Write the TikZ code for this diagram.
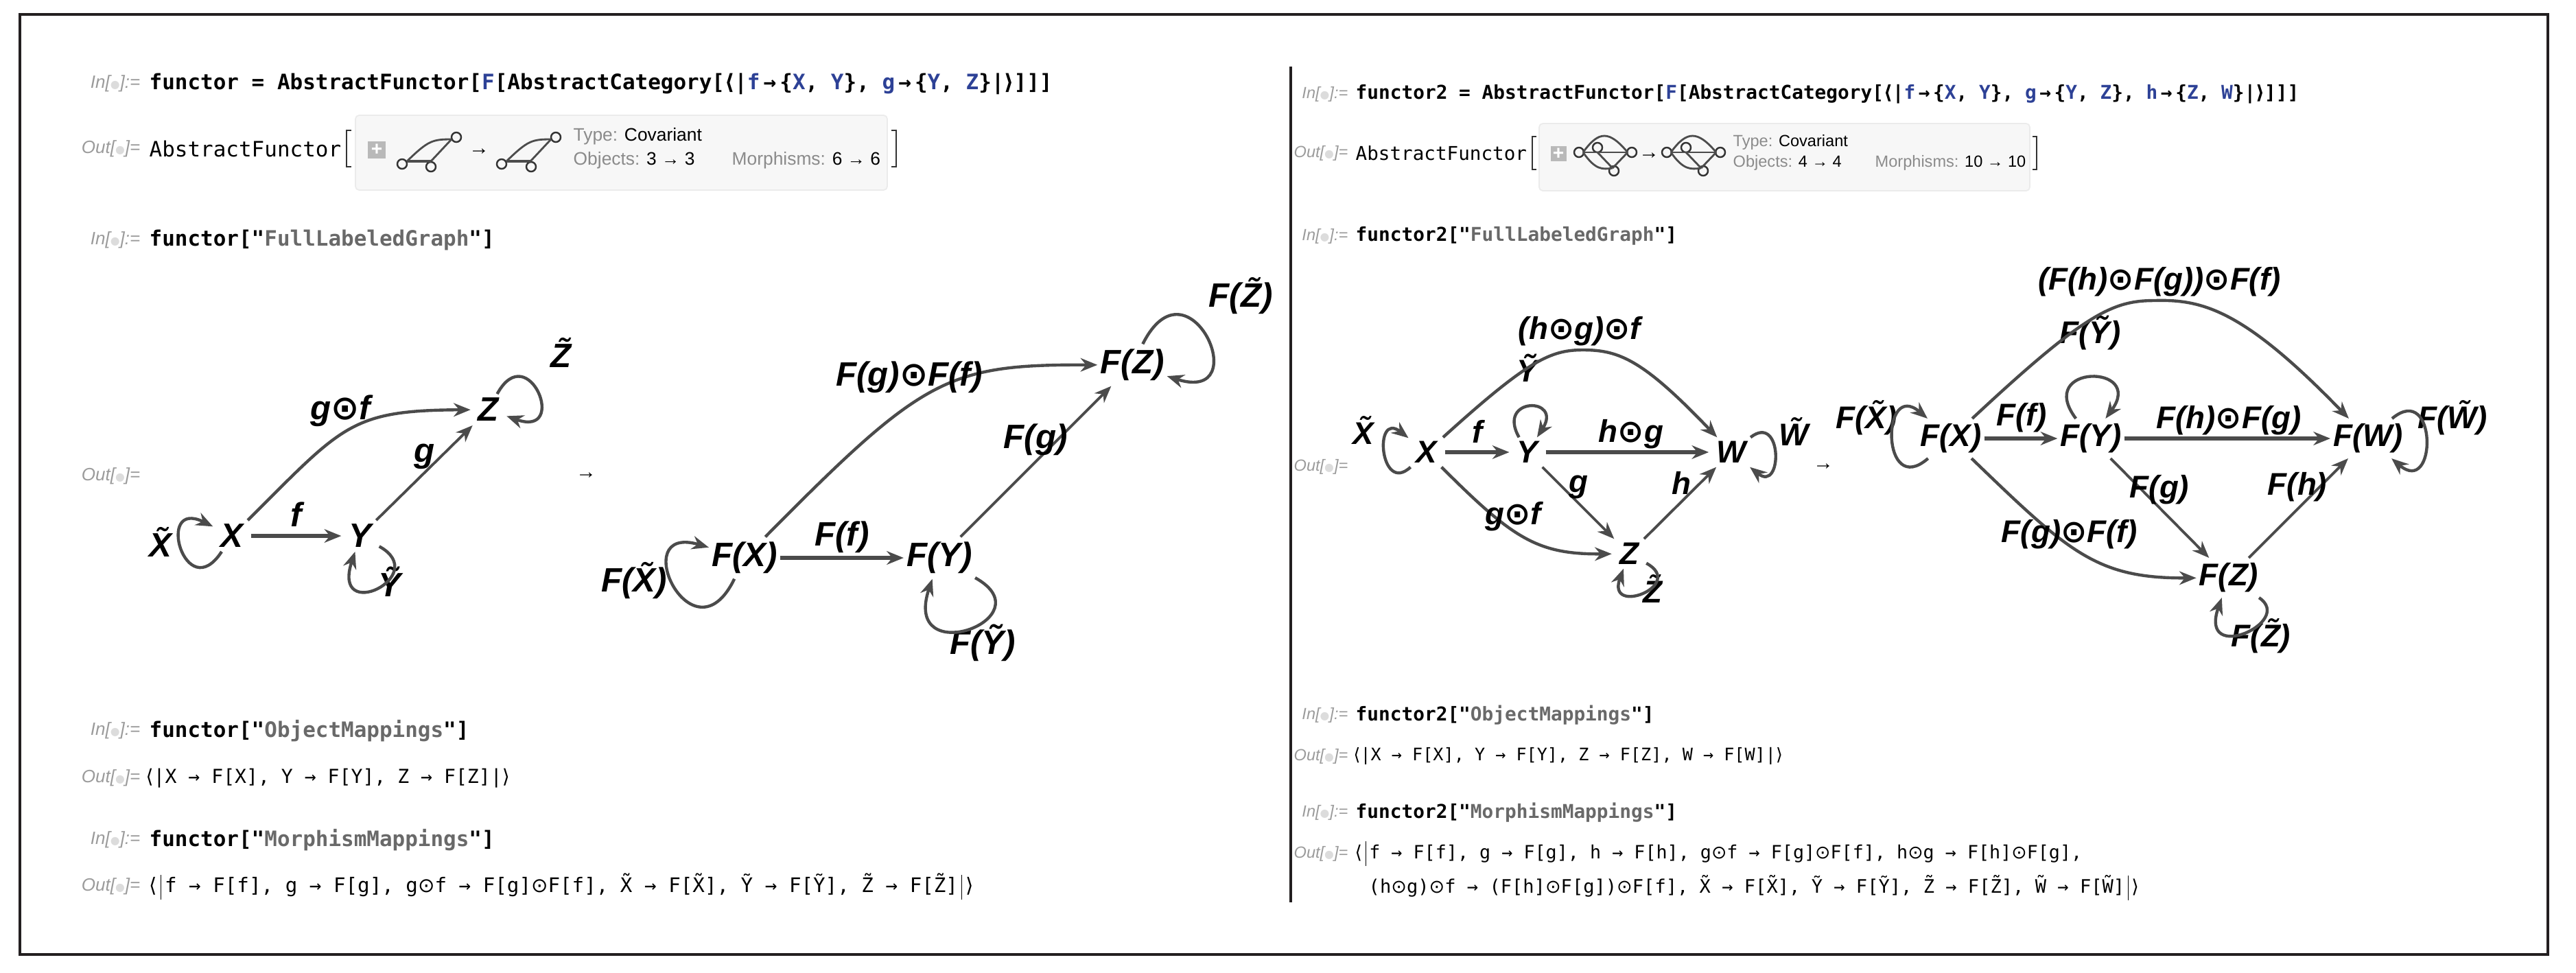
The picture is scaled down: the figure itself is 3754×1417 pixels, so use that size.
\documentclass[tikz,border=0pt]{standalone}
\usepackage{fontspec}
\usetikzlibrary{arrows.meta}
\setmainfont{Liberation Sans}
\newfontfamily\codefont{DejaVu Sans Mono}
\newfontfamily\dejafont{DejaVu Sans}
\definecolor{labelgray}{RGB}{155,155,155}
\definecolor{dotgray}{RGB}{220,220,220}
\definecolor{stringgray}{RGB}{105,105,105}
\definecolor{wlblue}{RGB}{45,65,150}
\definecolor{edgegray}{RGB}{75,75,75}
\definecolor{framegray}{RGB}{35,31,32}
\definecolor{boxgray}{RGB}{247,247,247}
\definecolor{boxline}{RGB}{235,235,235}
\definecolor{plusgray}{RGB}{185,185,185}
\newcommand{\bl}[1]{\textcolor{wlblue}{#1}}
\newcommand{\str}[1]{\textcolor{stringgray}{#1}}
\newcommand{\gry}[1]{\textcolor{labelgray!90!black}{#1}}
\newcommand{\dotmark}{\textcolor{dotgray}{{\dejafont\fontsize{4.5}{5}\selectfont ●}}}
\newcommand{\inmark}{In[\dotmark]:=}
\newcommand{\outmark}{Out[\dotmark]=}
\newcommand{\odotb}{{\dejafont\bfseries ⊙}}
\newcommand{\odotr}{{\dejafont ⊙}}
\newcommand{\langl}{{\dejafont ⟨}}
\newcommand{\rangl}{{\dejafont ⟩}}
\newcommand{\bigbar}{\rule[-3pt]{0.35pt}{10.4pt}}
\begin{document}
\begin{tikzpicture}[x=0.01cm, y=-0.01cm,
    inlabel/.style={anchor=east, inner sep=0pt, text=labelgray, font=\itshape\fontsize{7.4}{9}\selectfont},
    inright/.style={inlabel, font=\itshape\fontsize{6.7}{8}\selectfont},
    codeleft/.style={anchor=west, inner sep=0pt, font=\codefont\bfseries\fontsize{8.8}{10}\selectfont},
    coderight/.style={anchor=west, inner sep=0pt, font=\codefont\bfseries\fontsize{7.9}{9}\selectfont},
    outleft/.style={anchor=west, inner sep=0pt, font=\codefont\fontsize{8.3}{10}\selectfont},
    outright/.style={anchor=west, inner sep=0pt, font=\codefont\fontsize{7.75}{9}\selectfont},
    infoleft/.style={anchor=west, inner sep=0pt, font=\fontsize{7.5}{9}\selectfont},
    inforight/.style={anchor=west, inner sep=0pt, font=\fontsize{6.7}{8}\selectfont},
    sumbox/.style={rectangle, rounded corners=1.5pt, draw=boxline, fill=boxgray, line width=0.5pt},
    plusbox/.style={rectangle, fill=plusgray, text=white, inner sep=0pt, font=\bfseries\fontsize{8}{8}\selectfont},
    miniloop/.style={circle, draw=black!80, line width=0.7pt, inner sep=0pt, minimum size=0.14cm},
    miniedge/.style={draw=black!70, line width=0.8pt},
    bracket/.style={draw=black!80, line width=0.4pt},
    obj/.style={inner xsep=3pt, inner ysep=1.5pt, font=\bfseries\itshape\fontsize{14}{16}\selectfont},
    fobj/.style={obj, inner xsep=1pt, inner ysep=2pt},
    lbl/.style={inner sep=0pt, font=\bfseries\itshape\fontsize{14}{16}\selectfont},
    robj/.style={obj, font=\bfseries\itshape\fontsize{13}{15}\selectfont},
    rfobj/.style={fobj, font=\bfseries\itshape\fontsize{13}{15}\selectfont},
    rlbl/.style={lbl, font=\bfseries\itshape\fontsize{13}{15}\selectfont},
    maparrow/.style={inner sep=0pt, font=\fontsize{8.5}{9}\selectfont},
    arrow/.style={->, >={Stealth[length=7pt, width=5.6pt]}, draw=edgegray, line width=1.25pt},
    arrowthin/.style={arrow, line width=1.1pt},
    arrowthick/.style={arrow, line width=1.8pt}
]
    \useasboundingbox (0,0) rectangle (3754,1417);

    % Frame
    \draw[draw=framegray, line width=0.04cm] (29,21) rectangle (3713,1391);
    \draw[draw=framegray, line width=0.04cm] (1881,97) -- (1881,1315);

    % Left notebook, text
    \node[inlabel] (inA) at (205,122) {\inmark};
    \node[codeleft] (codeA) at (217,122) {functor = AbstractFunctor[\bl{F}[AbstractCategory[\langl|\bl{f}\,→\,\{\bl{X}, \bl{Y}\}, \bl{g}\,→\,\{\bl{Y}, \bl{Z}\}|\rangl]]]};
    \node[inlabel] (outA) at (205,217) {\outmark};
    \node[codeleft, font=\codefont\fontsize{8.8}{10}\selectfont] (codeB) at (217,217) {AbstractFunctor};
    \node[inlabel] (inB) at (205,350) {\inmark};
    \node[codeleft] (codeC) at (217,350) {functor["\str{FullLabeledGraph}"]};
    \node[inlabel] (outB) at (205,694) {\outmark};
    \node[inlabel] (inC) at (205,1065) {\inmark};
    \node[codeleft] (codeD) at (217,1065) {functor["\str{ObjectMappings}"]};
    \node[inlabel] (outC) at (205,1134) {\outmark};
    \node[outleft, font=\codefont\fontsize{8}{9}\selectfont] (codeE) at (212,1134) {\langl|X → F[X], Y → F[Y], Z → F[Z]|\rangl};
    \node[inlabel] (inD) at (205,1224) {\inmark};
    \node[codeleft] (codeF) at (217,1224) {functor["\str{MorphismMappings}"]};
    \node[inlabel] (outD) at (205,1292) {\outmark};
    \node[outleft] (codeG) at (217,1292) {\langl\,\bigbar\,f → F[f], g → F[g], g\odotr{}f → F[g]\odotr{}F[f], \~{X} → F[\~{X}], \~{Y} → F[\~{Y}], \~{Z} → F[\~{Z}]\,\bigbar\,\rangl};

    % Left summary box
    \draw[sumbox] (518,168) rectangle (1293,277);
    \draw[bracket] (512,190) -- (505,190) -- (505,243) -- (512,243);
    \draw[bracket] (1299,190) -- (1306,190) -- (1306,243) -- (1299,243);
    \node[plusbox, minimum width=0.26cm, minimum height=0.25cm] (plusA) at (549,218) {+};
    \coordinate (aX) at (593,235);
    \coordinate (aY) at (628,235);
    \coordinate (aZ) at (658,203);
    \node[miniloop] (aXl) at (586,239) {};
    \node[miniloop] (aYl) at (628,243) {};
    \node[miniloop] (aZl) at (665,200) {};
    \draw[miniedge, line width=1.3pt] (aX) -- (aY);
    \draw[miniedge] (aY) -- (aZ);
    \draw[miniedge] (aX) .. controls (624,205) and (630,203) .. (aZ);
    \node[maparrow] (mapA) at (698,221) {→};
    \coordinate (bX) at (738,235);
    \coordinate (bY) at (773,235);
    \coordinate (bZ) at (803,203);
    \node[miniloop] (bXl) at (731,239) {};
    \node[miniloop] (bYl) at (774,243) {};
    \node[miniloop] (bZl) at (810,200) {};
    \draw[miniedge, line width=1.3pt] (bX) -- (bY);
    \draw[miniedge] (bY) -- (bZ);
    \draw[miniedge] (bX) .. controls (769,205) and (775,203) .. (bZ);
    \node[infoleft] (typeA) at (835,199) {\gry{Type:} Covariant};
    \node[infoleft] (objA) at (835,234) {\gry{Objects:} 3 → 3};
    \node[infoleft] (morA) at (1066,234) {\gry{Morphisms:} 6 → 6};

    % Left graph
    \node[obj] (X) at (338,781) {X};
    \node[obj] (Y) at (525,781) {Y};
    \node[obj] (Z) at (712,597) {Z};
    \node[lbl] (tX) at (234,790) {\~{X}};
    \node[lbl] (tY) at (568,848) {\~{Y}};
    \node[lbl] (tZ) at (818,514) {\~{Z}};
    \draw[arrowthick] (X) -- node[lbl, above=0.1cm] (f) {f} (Y);
    \draw[arrowthin] (Y) -- (Z);
    \draw[arrow] (X) .. controls (500,620) and (510,598) .. (Z);
    \draw[arrow] (X) .. controls (270,885) and (225,725) .. (X);
    \draw[arrow] (Y) .. controls (630,839) and (482,911) .. (Y);
    \draw[arrow] (Z) .. controls (770,491) and (830,639) .. (Z);
    \node[lbl] (g) at (619,665) {g};
    \node[lbl] (gf) at (496,599) {g\odotb{}f};

    \node[maparrow] (mapB) at (854,693) {→};

    \node[fobj] (FX) at (1085,813) {F(X)};
    \node[fobj] (FY) at (1369,813) {F(Y)};
    \node[fobj] (FZ) at (1650,532) {F(Z)};
    \node[lbl] (FtX) at (924,846) {F(\~{X})};
    \node[lbl] (FtY) at (1432,937) {F(\~{Y})};
    \node[lbl] (FtZ) at (1808,431) {F(\~{Z})};
    \draw[arrowthick] (FX) -- (FY);
    \draw[arrowthin] (FY) -- (FZ);
    \draw[arrow] (FX) .. controls (1345,550) and (1380,531) .. (FZ);
    \draw[arrow] (FX) .. controls (1009,970) and (911,762) .. (FX);
    \draw[arrow] (FY) .. controls (1527,901) and (1313,979) .. (FY);
    \draw[arrow] (FZ) .. controls (1732,368) and (1832,590) .. (FZ);
    \node[lbl] (Ff) at (1227,783) {F(f)};
    \node[lbl] (Fg) at (1509,641) {F(g)};
    \node[lbl] (Fgf) at (1325,550) {F(g)\odotb{}F(f)};

    % Right notebook, text
    \node[inlabel, inright] (inE) at (1965,137) {\inmark};
    \node[coderight] (codeH) at (1975,137) {functor2 = AbstractFunctor[\bl{F}[AbstractCategory[\langl|\bl{f}\,→\,\{\bl{X}, \bl{Y}\}, \bl{g}\,→\,\{\bl{Y}, \bl{Z}\}, \bl{h}\,→\,\{\bl{Z}, \bl{W}\}|\rangl]]]};
    \node[inlabel, inright] (outE) at (1965,223) {\outmark};
    \node[coderight, font=\codefont\fontsize{7.85}{9}\selectfont] (codeI) at (1975,223) {AbstractFunctor};
    \node[inlabel, inright] (inF) at (1965,344) {\inmark};
    \node[coderight] (codeJ) at (1975,344) {functor2["\str{FullLabeledGraph}"]};
    \node[inlabel, inright] (outF) at (1965,680) {\outmark};
    \node[inlabel, inright] (inG) at (1965,1042) {\inmark};
    \node[coderight] (codeK) at (1975,1042) {functor2["\str{ObjectMappings}"]};
    \node[inlabel, inright] (outG) at (1965,1102) {\outmark};
    \node[outright, font=\codefont\fontsize{7.15}{9}\selectfont] (codeL) at (1972,1102) {\langl|X → F[X], Y → F[Y], Z → F[Z], W → F[W]|\rangl};
    \node[inlabel, inright] (inH) at (1965,1184) {\inmark};
    \node[coderight] (codeM) at (1975,1184) {functor2["\str{MorphismMappings}"]};
    \node[inlabel, inright] (outH) at (1965,1244) {\outmark};
    \node[outright, font=\codefont\fontsize{7.6}{9}\selectfont] (codeN) at (1974,1244) {\langl\,\bigbar\,f → F[f], g → F[g], h → F[h], g\odotr{}f → F[g]\odotr{}F[f], h\odotr{}g → F[h]\odotr{}F[g],};
    \node[outright, font=\codefont\fontsize{7.7}{9}\selectfont] (codeO) at (1994,1294) {(h\odotr{}g)\odotr{}f → (F[h]\odotr{}F[g])\odotr{}F[f], \~{X} → F[\~{X}], \~{Y} → F[\~{Y}], \~{Z} → F[\~{Z}], \~{W} → F[\~{W}]\,\bigbar\,\rangl};

    % Right summary box
    \draw[sumbox] (2243,180) rectangle (2958,278);
    \draw[bracket] (2239,199) -- (2233,199) -- (2233,247) -- (2239,247);
    \draw[bracket] (2962,199) -- (2968,199) -- (2968,247) -- (2962,247);
    \node[plusbox, minimum width=0.23cm, minimum height=0.22cm] (plusB) at (2271,224) {+};
    \coordinate (cX) at (2307,222);
    \coordinate (cY) at (2328,222);
    \coordinate (cW) at (2372,222);
    \coordinate (cZ) at (2350,245);
    \node[miniloop] (cXl) at (2301,222) {};
    \node[miniloop] (cYl) at (2328,215) {};
    \node[miniloop] (cWl) at (2378,222) {};
    \node[miniloop] (cZl) at (2352,249) {};
    \draw[miniedge] (cX) -- (cW);
    \draw[miniedge] (cY) -- (cZ);
    \draw[miniedge] (cZ) -- (cW);
    \draw[miniedge] (cX) .. controls (2330,190) and (2345,190) .. (cW);
    \draw[miniedge] (cX) .. controls (2325,248) and (2335,247) .. (cZ);
    \node[maparrow] (mapC) at (2403,227) {→};
    \coordinate (dX) at (2435,222);
    \coordinate (dY) at (2457,222);
    \coordinate (dW) at (2501,222);
    \coordinate (dZ) at (2479,245);
    \node[miniloop] (dXl) at (2429,222) {};
    \node[miniloop] (dYl) at (2457,215) {};
    \node[miniloop] (dWl) at (2507,222) {};
    \node[miniloop] (dZl) at (2482,249) {};
    \draw[miniedge] (dX) -- (dW);
    \draw[miniedge] (dY) -- (dZ);
    \draw[miniedge] (dZ) -- (dW);
    \draw[miniedge] (dX) .. controls (2458,190) and (2474,190) .. (dW);
    \draw[miniedge] (dX) .. controls (2453,248) and (2464,247) .. (dZ);
    \node[inforight] (typeB) at (2525,207) {\gry{Type:} Covariant};
    \node[inforight] (objB) at (2525,237) {\gry{Objects:} 4 → 4};
    \node[inforight] (morB) at (2732,237) {\gry{Morphisms:} 10 → 10};

    % Right graph
    \node[robj] (rX) at (2079,659) {X};
    \node[robj] (rY) at (2226,659) {Y};
    \node[robj] (rW) at (2523,659) {W};
    \node[robj] (rZ) at (2374,807) {Z};
    \node[rlbl] (rtX) at (1987,627) {\~{X}};
    \node[rlbl] (rtY) at (2226,536) {\~{Y}};
    \node[rlbl] (rtZ) at (2408,858) {\~{Z}};
    \node[rlbl] (rtW) at (2614,629) {\~{W}};
    \draw[arrowthick] (rX) -- (rY);
    \draw[arrowthick] (rY) -- (rW);
    \draw[arrowthin] (rY) -- (rZ);
    \draw[arrowthin] (rZ) -- (rW);
    \coordinate (rtop) at (2307,510);
    \draw[arrow] (rX) .. controls (2228,524) and (2260,510) .. (rtop) .. controls (2360,510) and (2395,525) .. (rW);
    \draw[arrow] (rX) .. controls (2205,785) and (2240,808) .. (rZ);
    \draw[arrow] (rX) .. controls (2011,722) and (2001,598) .. (rX);
    \draw[arrow] (rY) .. controls (2180,578) and (2278,578) .. (rY);
    \draw[arrow] (rW) .. controls (2598,601) and (2598,719) .. (rW);
    \draw[arrow] (rZ) .. controls (2458,853) and (2340,899) .. (rZ);
    \node[rlbl] (rf) at (2153,629) {f};
    \node[rlbl] (rg) at (2300,710) {g};
    \node[rlbl] (rh) at (2450,704) {h};
    \node[rlbl] (rhg) at (2377,633) {h\odotb{}g};
    \node[rlbl] (rgf) at (2205,753) {g\odotb{}f};
    \node[rlbl] (rhgf) at (2302,483) {(h\odotb{}g)\odotb{}f};

    \node[maparrow] (mapD) at (2657,680) {→};

    \node[rfobj] (rFX) at (2843,639) {F(X)};
    \node[rfobj] (rFY) at (3047,639) {F(Y)};
    \node[rfobj] (rFW) at (3451,639) {F(W)};
    \node[rfobj] (rFZ) at (3248,842) {F(Z)};
    \node[rlbl] (rFtX) at (2720,609) {F(\~{X})};
    \node[rlbl] (rFtY) at (3046,485) {F(\~{Y})};
    \node[rlbl] (rFtZ) at (3295,927) {F(\~{Z})};
    \node[rlbl] (rFtW) at (3574,609) {F(\~{W})};
    \draw[arrowthick] (rFX) -- (rFY);
    \draw[arrowthick] (rFY) -- (rFW);
    \draw[arrowthin] (rFY) -- (rFZ);
    \draw[arrowthin] (rFZ) -- (rFW);
    \coordinate (rFtop) at (3140,438);
    \draw[arrow] (rFX) .. controls (3040,455) and (3080,438) .. (rFtop) .. controls (3210,436) and (3270,452) .. (rFW);
    \draw[arrow] (rFX) .. controls (3015,805) and (3055,843) .. (rFZ);
    \draw[arrow] (rFX) .. controls (2741,728) and (2741,552) .. (rFX);
    \draw[arrow] (rFY) .. controls (2965,530) and (3127,530) .. (rFY);
    \draw[arrow] (rFW) .. controls (3552,555) and (3552,725) .. (rFW);
    \draw[arrow] (rFZ) .. controls (3345,906) and (3203,970) .. (rFZ);
    \node[rlbl] (rFf) at (2946,609) {F(f)};
    \node[rlbl] (rFg) at (3147,714) {F(g)};
    \node[rlbl] (rFh) at (3348,710) {F(h)};
    \node[rlbl] (rFhg) at (3248,613) {F(h)\odotb{}F(g)};
    \node[rlbl] (rFgf) at (3016,779) {F(g)\odotb{}F(f)};
    \node[rlbl] (rFhgf) at (3147,411) {(F(h)\odotb{}F(g))\odotb{}F(f)};
\end{tikzpicture}
\end{document}
